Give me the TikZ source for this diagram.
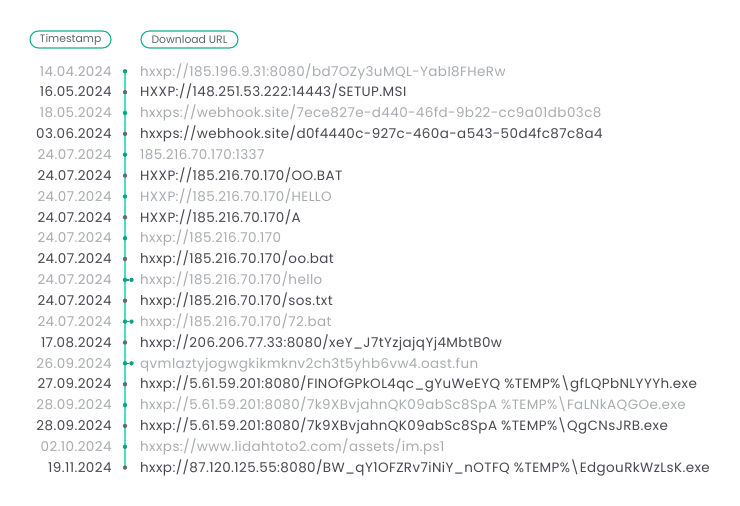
\documentclass[tikz,border=0pt]{standalone}
\usepackage{fontspec}
\setmainfont{Poppins}
\usetikzlibrary{backgrounds}
\definecolor{darktext}{RGB}{72,72,82}
\definecolor{lighttext}{RGB}{168,171,176}
\definecolor{dotteal}{RGB}{16,160,130}
\definecolor{dotgray}{RGB}{105,105,112}
\definecolor{lineteal}{RGB}{64,226,192}
\definecolor{pillteal}{RGB}{30,172,146}
\tikzset{
  rowtext/.style={inner sep=0pt, font=\fontsize{13.5}{16}\selectfont\addfontfeatures{LetterSpace=3}},
  datelight/.style={rowtext, anchor=base east, text=lighttext},
  datedark/.style={rowtext, anchor=base east, text=darktext},
  urllight/.style={rowtext, anchor=base west, text=lighttext},
  urldark/.style={rowtext, anchor=base west, text=darktext},
  tealdot/.style={circle, fill=dotteal, inner sep=0pt, minimum size=4.4pt},
  graydot/.style={circle, fill=dotgray, inner sep=0pt, minimum size=4.4pt},
  pill/.style={draw=pillteal, line width=1.1pt, rounded corners=8.5pt,
    minimum height=17pt, inner sep=0pt, text=darktext!85,
    font=\fontsize{10.8}{12}\selectfont}
}
\begin{document}
\begin{tikzpicture}[x=1pt,y=-1pt]
\useasboundingbox (0,0) rectangle (740,506);

% Column headers
\node [pill, minimum width=81pt] (hdate) at (70.5,39.5) {Timestamp};
\node [pill, minimum width=97pt] (hurl) at (189.5,39.5) {Download URL};

% Row 1
\node [datelight] (d1) at (111.7,76.0) {14.04.2024};
\node [tealdot] (p1) at (125,71.3) {};
\node [urllight] (u1) at (140,76.0) {hxxp://185.196.9.31:8080/bd7OZy3uMQL-YabI8FHeRw};

% Row 2
\node [datedark] (d2) at (111.7,96.9) {16.05.2024};
\node [graydot] (p2) at (125,92.2) {};
\node [urldark] (u2) at (140,96.9) {HXXP://148.251.53.222:14443/SETUP.MSI};

% Row 3
\node [datelight] (d3) at (111.7,117.7) {18.05.2024};
\node [tealdot] (p3) at (125,113.0) {};
\node [urllight] (u3) at (140,117.7) {hxxps://webhook.site/7ece827e-d440-46fd-9b22-cc9a01db03c8};

% Row 4
\node [datedark] (d4) at (111.7,138.6) {03.06.2024};
\node [graydot] (p4) at (125,133.9) {};
\node [urldark] (u4) at (140,138.6) {hxxps://webhook.site/d0f4440c-927c-460a-a543-50d4fc87c8a4};

% Row 5
\node [datelight] (d5) at (111.7,159.4) {24.07.2024};
\node [tealdot] (p5) at (125,154.7) {};
\node [urllight] (u5) at (140,159.4) {185.216.70.170:1337};

% Row 6
\node [datedark] (d6) at (111.7,180.3) {24.07.2024};
\node [graydot] (p6) at (125,175.6) {};
\node [urldark] (u6) at (140,180.3) {HXXP://185.216.70.170/OO.BAT};

% Row 7
\node [datelight] (d7) at (111.7,201.2) {24.07.2024};
\node [tealdot] (p7) at (125,196.5) {};
\node [urllight] (u7) at (140,201.2) {HXXP://185.216.70.170/HELLO};

% Row 8
\node [datedark] (d8) at (111.7,222.0) {24.07.2024};
\node [graydot] (p8) at (125,217.3) {};
\node [urldark] (u8) at (140,222.0) {HXXP://185.216.70.170/A};

% Row 9
\node [datelight] (d9) at (111.7,242.9) {24.07.2024};
\node [tealdot] (p9) at (125,238.2) {};
\node [urllight] (u9) at (140,242.9) {hxxp://185.216.70.170};

% Row 10
\node [datedark] (d10) at (111.7,263.7) {24.07.2024};
\node [graydot] (p10) at (125,259.0) {};
\node [urldark] (u10) at (140,263.7) {hxxp://185.216.70.170/oo.bat};

% Row 11 (double mark)
\node [datelight] (d11) at (111.7,284.6) {24.07.2024};
\node [tealdot] (p11) at (125,279.9) {};
\node [tealdot] (q11) at (131.5,279.9) {};
\node [urllight] (u11) at (140,284.6) {hxxp://185.216.70.170/hello};

% Row 12
\node [datedark] (d12) at (111.7,305.5) {24.07.2024};
\node [graydot] (p12) at (125,300.8) {};
\node [urldark] (u12) at (140,305.5) {hxxp://185.216.70.170/sos.txt};

% Row 13 (double mark)
\node [datelight] (d13) at (111.7,326.3) {24.07.2024};
\node [tealdot] (p13) at (125,321.6) {};
\node [tealdot] (q13) at (131.5,321.6) {};
\node [urllight] (u13) at (140,326.3) {hxxp://185.216.70.170/72.bat};

% Row 14
\node [datedark] (d14) at (111.7,347.2) {17.08.2024};
\node [graydot] (p14) at (125,342.5) {};
\node [urldark] (u14) at (140,347.2) {hxxp://206.206.77.33:8080/xeY\_J7tYzjajqYj4MbtB0w};

% Row 15 (double mark)
\node [datelight] (d15) at (111.7,368.0) {26.09.2024};
\node [tealdot] (p15) at (125,363.3) {};
\node [tealdot] (q15) at (131.5,363.3) {};
\node [urllight] (u15) at (140,368.0) {qvmlaztyjogwgkikmknv2ch3t5yhb6vw4.oast.fun};

% Row 16
\node [datedark] (d16) at (111.7,388.9) {27.09.2024};
\node [graydot] (p16) at (125,384.2) {};
\node [urldark] (u16) at (140,388.9) {hxxp://5.61.59.201:8080/FINOfGPkOL4qc\_gYuWeEYQ \%TEMP\%\textbackslash gfLQPbNLYYYh.exe};

% Row 17
\node [datelight] (d17) at (111.7,409.8) {28.09.2024};
\node [tealdot] (p17) at (125,405.1) {};
\node [urllight] (u17) at (140,409.8) {hxxp://5.61.59.201:8080/7k9XBvjahnQK09abSc8SpA \%TEMP\%\textbackslash FaLNkAQGOe.exe};

% Row 18
\node [datedark] (d18) at (111.7,430.6) {28.09.2024};
\node [graydot] (p18) at (125,425.9) {};
\node [urldark] (u18) at (140,430.6) {hxxp://5.61.59.201:8080/7k9XBvjahnQK09abSc8SpA \%TEMP\%\textbackslash QgCNsJRB.exe};

% Row 19
\node [datelight] (d19) at (111.7,451.5) {02.10.2024};
\node [tealdot] (p19) at (125,446.8) {};
\node [urllight] (u19) at (140,451.5) {hxxps://www.lidahtoto2.com/assets/im.ps1};

% Row 20
\node [datedark] (d20) at (111.7,472.3) {19.11.2024};
\node [graydot] (p20) at (125,467.6) {};
\node [urldark] (u20) at (140,472.3) {hxxp://87.120.125.55:8080/BW\_qY1OFZRv7iNiY\_nOTFQ \%TEMP\%\textbackslash EdgouRkWzLsK.exe};

% Timeline
\begin{scope}[on background layer]
\draw [lineteal, line width=2pt] (p1.center) -- (p20.center);
\draw [dotteal, line width=1.2pt] (p11) -- (q11);
\draw [dotteal, line width=1.2pt] (p13) -- (q13);
\draw [dotteal, line width=1.2pt] (p15) -- (q15);
\end{scope}
\end{tikzpicture}
\end{document}
